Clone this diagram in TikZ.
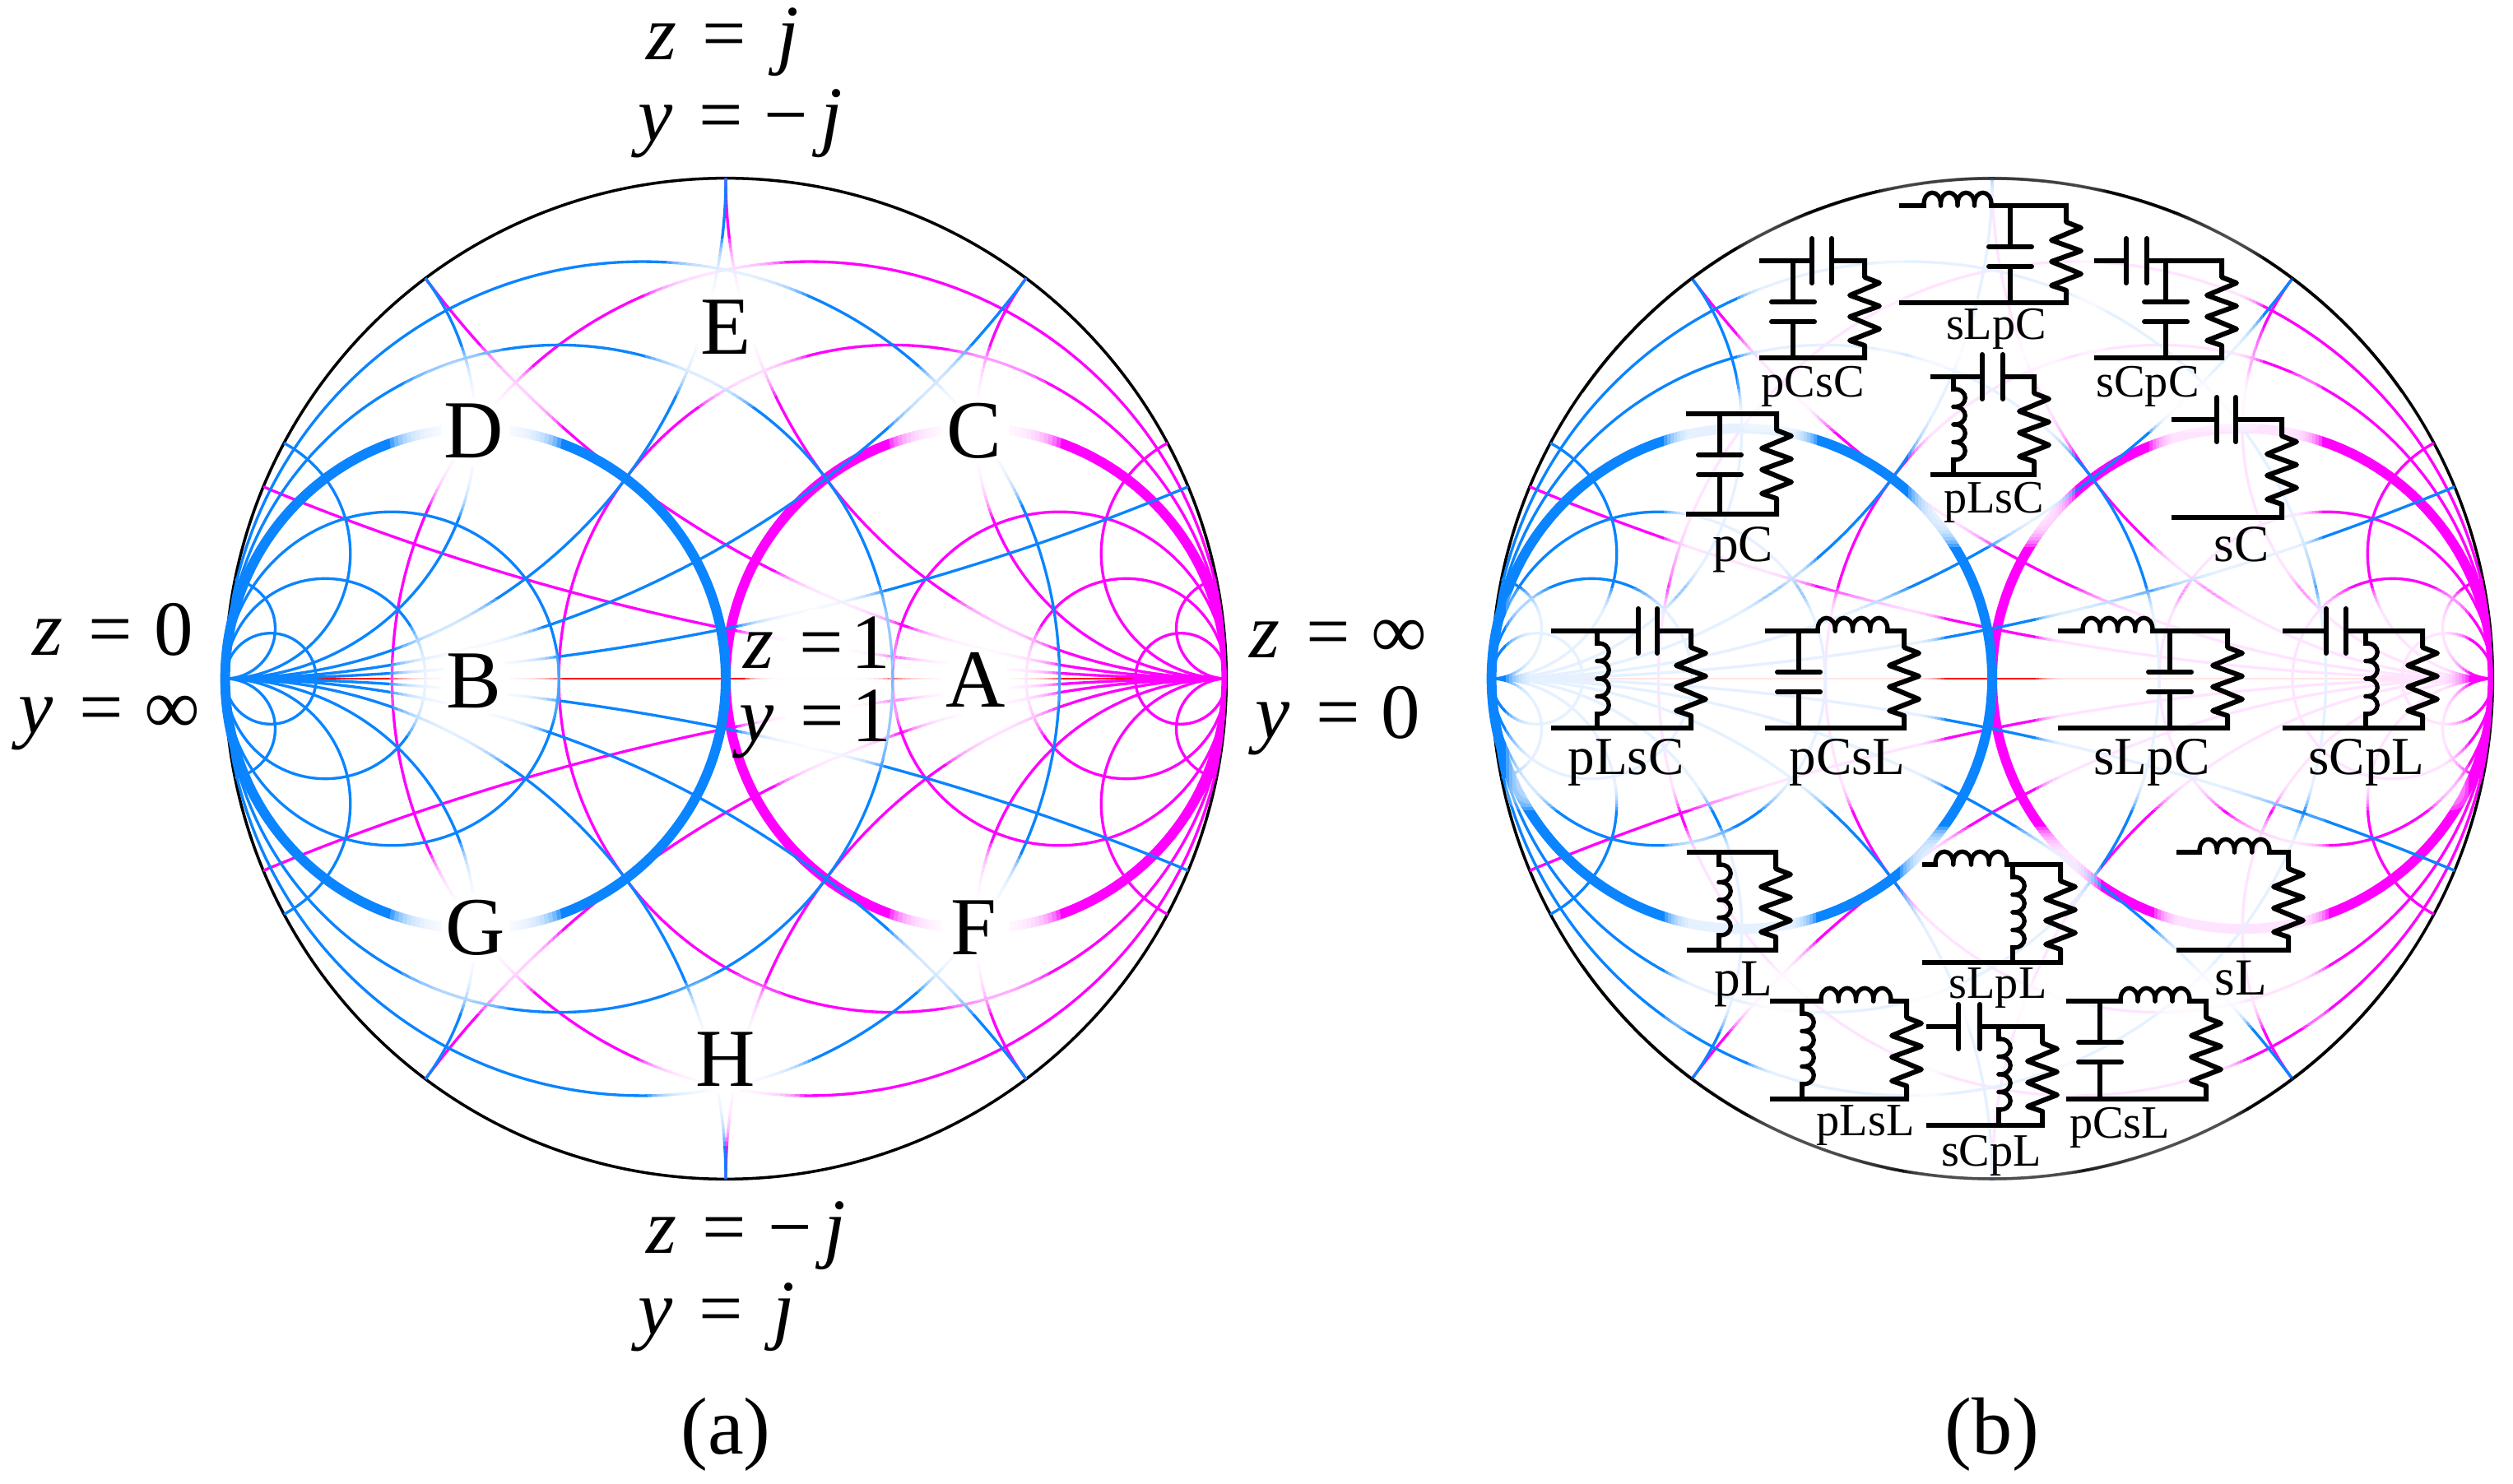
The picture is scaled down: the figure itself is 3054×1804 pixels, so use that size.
\documentclass[tikz,border=0pt]{standalone}
\usepackage{fontspec}
\setmainfont{Liberation Serif}
\definecolor{chblue}{HTML}{0A84FF}
\definecolor{chmag}{HTML}{FF00FF}
\tikzset{
  x=0.01cm,y=-0.01cm,
  outerc/.style={draw=black,line width=1pt},
  redl/.style={draw=red,line width=0.5pt},
  magl/.style={draw=chmag,line width=0.95pt},
  blul/.style={draw=chblue,line width=0.95pt},
  magt/.style={draw=chmag,line width=3.4pt},
  blut/.style={draw=chblue,line width=3.4pt},
  wire/.style={draw=black,line width=1.7pt,line cap=rect,line join=round},
  plate/.style={draw=black,line width=1.7pt,line cap=round},
  coil/.style={draw=black,line width=1.5pt,line cap=round},
  bigl/.style={inner sep=0pt,anchor=base,font=\fontsize{28.5}{30}\selectfont},
  eqn/.style={inner sep=0pt,anchor=base west,font=\fontsize{27}{28}\selectfont},
  capt/.style={inner sep=0pt,anchor=base,font=\fontsize{28}{30}\selectfont},
  cklab/.style={inner sep=0pt,anchor=base,font=\fontsize{16}{18}\selectfont},
  cklabc/.style={inner sep=0pt,anchor=base,font=\fontsize{18.5}{20}\selectfont},
  cklabb/.style={inner sep=0pt,anchor=base,font=\fontsize{18}{20}\selectfont}
}
% Smith chart grid, px centre (#1,#2)
\newcommand{\chartgrid}[2]{%
  \begin{scope}[shift={(#1,#2)},x=6.08cm,y=6.08cm]
    \draw[outerc] (0,0) circle (1);
    \begin{scope}
      \clip (0,0) circle (1);
      \draw[redl] (-1,0) -- (1,0);
      \foreach \vv in {0.2,0.5,2,4,10}{
        \pgfmathsetmacro\ctrv{\vv/(1+\vv)}
        \pgfmathsetmacro\radv{1/(1+\vv)}
        \draw[magl] (\ctrv,0) circle (\radv);
      }
      \foreach \vv in {0.2,0.5,1,2,4,10}{
        \pgfmathsetmacro\radv{1/\vv}
        \draw[magl] (1,\radv) circle (\radv);
        \draw[magl] (1,-\radv) circle (\radv);
      }
      \draw[magt] (0.5,0) circle (0.5);
      \foreach \vv in {0.2,0.5,2,4,10}{
        \pgfmathsetmacro\ctrv{\vv/(1+\vv)}
        \pgfmathsetmacro\radv{1/(1+\vv)}
        \draw[blul] (-\ctrv,0) circle (\radv);
      }
      \foreach \vv in {0.2,0.5,1,2,4,10}{
        \pgfmathsetmacro\radv{1/\vv}
        \draw[blul] (-1,\radv) circle (\radv);
        \draw[blul] (-1,-\radv) circle (\radv);
      }
    \end{scope}
    \draw[blut] (-0.5,0) circle (0.5);
  \end{scope}
}
% soft white disc
\newcommand{\softdisc}[3]{%
  \foreach \ff in {1.0,0.95,0.9,0.85,0.8,0.75,0.7,0.65,0.6,0.55,0.5,0.45}{
    \fill[white,opacity=0.25] (#1,#2) circle ({\ff*#3});
  }
  \fill[white] (#1,#2) circle ({0.4*#3});
}
% soft white rectangle
\newcommand{\softrect}[4]{%
  \foreach \gg in {30,26,22,18,14,10,6,2}{
    \fill[white,opacity=0.25,rounded corners=6pt] (#1-\gg,#2-\gg) rectangle (#3+\gg,#4+\gg);
  }
}
% resistor: x, ytop, ybot
\newcommand{\resz}[3]{%
  \draw[wire] (#1,#2) -- ++(0,20) -- ++(18,7) -- ++(-36,15) -- ++(36,13) -- ++(-36,13) -- ++(36,15) -- ++(-36,14) -- ++(18,6) -- (#1,#3);
}
% shunt capacitor: x, ytop, ybot
\newcommand{\capv}[3]{%
  \draw[wire] (#1,#2) -- (#1,#2+50);
  \draw[plate] (#1-26,#2+50) -- (#1+26,#2+50);
  \draw[plate] (#1-26,#2+74) -- (#1+26,#2+74);
  \draw[wire] (#1,#2+74) -- (#1,#3);
}
% series capacitor plates: x1, x2, y
\newcommand{\caph}[3]{%
  \draw[plate] (#1,#3-27) -- (#1,#3+27);
  \draw[plate] (#2,#3-27) -- (#2,#3+27);
}
% series inductor: x1, x2, y
\newcommand{\indh}[3]{%
  \foreach \ii in {0,1,2,3}{
    \pgfmathsetmacro\xa{#1+\ii*(#2-#1)/4}
    \pgfmathsetmacro\xb{#1+(\ii+1)*(#2-#1)/4}
    \draw[coil] (\xa,#3) .. controls (\xa-1,#3-21) and (\xb+1,#3-21) .. (\xb,#3);
  }
}
% shunt inductor: x, ytop, ybot
\newcommand{\indv}[3]{%
  \draw[wire] (#1,#2) -- (#1,#2+15);
  \foreach \ii in {0,1,2,3}{
    \pgfmathsetmacro\ya{#2+15+\ii*21.5}
    \pgfmathsetmacro\yb{#2+15+(\ii+1)*21.5}
    \draw[coil] (#1,\ya) .. controls (#1+19,\ya-1) and (#1+19,\yb+1) .. (#1,\yb);
  }
  \draw[wire] (#1,#2+101) -- (#1,#3);
}
\newcommand{\eqz}[2]{{\itshape #1}\hspace{0.33em}=\hspace{0.27em}#2}
\newcommand{\eqy}[2]{{\itshape #1}\hspace{0.33em}=\hspace{0.1em}#2}
\begin{document}
\begin{tikzpicture}
\useasboundingbox (0,0) rectangle (3054,1804);
\fill[white] (0,0) rectangle (3054,1804);

% ---------- chart (a)
\chartgrid{882}{825}
\softdisc{882}{395}{105}
\softdisc{578}{525}{105}
\softdisc{1185}{525}{105}
\softdisc{578}{830}{105}
\softdisc{1185}{830}{105}
\softdisc{578}{1128}{105}
\softdisc{1185}{1128}{105}
\softdisc{882}{1288}{105}
\softdisc{995}{780}{100}
\softdisc{995}{870}{100}

\node[bigl] (tE) at (882,431) {E};
\node[bigl] (tD) at (576,557) {D};
\node[bigl] (tC) at (1184,557) {C};
\node[bigl] (tB) at (576,861) {B};
\node[bigl] (tA) at (1186,860) {A};
\node[bigl] (tG) at (578,1160) {G};
\node[bigl] (tF) at (1183,1160) {F};
\node[bigl] (tH) at (882,1320) {H};

\node[eqn] (e1) at (785,73) {\eqz{z}{\hspace{0.12em}\itshape j}};
\node[eqn] (e2) at (775,172) {\eqz{y}{−\hspace{0.16em}\itshape j}};
\node[eqn] (e3) at (785,1523) {\eqz{z}{−\hspace{0.16em}\itshape j}};
\node[eqn] (e4) at (775,1622) {\eqz{y}{\hspace{0.12em}\itshape j}};
\node[eqn] (e5) at (39,797) {\eqz{z}{0}};
\node[eqn] (e6) at (22,892) {\eqz{y}{∞}};
\node[eqn] (e7) at (1518,800) {\eqz{z}{∞}};
\node[eqn] (e8) at (1525,898) {\eqz{y}{0}};
\node[eqn] (e9) at (903,813) {\eqy{z}{1}};
\node[eqn] (e10) at (898,902) {\eqy{y}{1}};
\node[capt] (ca) at (882,1767) {(a)};
\node[capt] (cb) at (2421,1767) {(b)};

% ---------- chart (b)
\chartgrid{2421}{825}
\softrect{2311}{235}{2530}{425}
\softrect{2141}{290}{2285}{495}
\softrect{2349}{430}{2492}{635}
\softrect{2052}{503}{2178}{695}
\softrect{2548}{290}{2720}{495}
\softrect{2642}{483}{2792}{695}
\softrect{1860}{745}{2333}{955}
\softrect{2504}{745}{2970}{955}
\softrect{2053}{1036}{2177}{1225}
\softrect{2339}{1035}{2523}{1225}
\softrect{2648}{1020}{2800}{1220}
\softrect{2154}{1202}{2336}{1395}
\softrect{2344}{1220}{2500}{1430}
\softrect{2514}{1202}{2700}{1395}
% keep the rim mostly legible above and below the faded patches
\draw[outerc,opacity=0.65] (2421,825) ++(35:608) arc[start angle=35,end angle=145,radius=608];
\draw[outerc,opacity=0.65] (2421,825) ++(215:608) arc[start angle=215,end angle=325,radius=608];

% sLpC top
\draw[wire] (2311,250) -- (2338,250);
\indh{2338}{2420}{250}
\draw[wire] (2420,250) -- (2511,250);
\draw[wire] (2311,368) -- (2511,368);
\capv{2443}{250}{368}
\resz{2511}{250}{368}
\node[cklab] (n1) at (2426,413) {sLpC};
% pCsC
\draw[wire] (2141,317) -- (2202,317);
\draw[wire] (2226,317) -- (2266,317);
\draw[wire] (2141,435) -- (2266,435);
\caph{2202}{2226}{317}
\capv{2179}{317}{435}
\resz{2266}{317}{435}
\node[cklab] (n2) at (2203,483) {pCsC};
% pLsC upper
\draw[wire] (2349,458) -- (2409,458);
\draw[wire] (2434,458) -- (2472,458);
\draw[wire] (2349,577) -- (2472,577);
\caph{2409}{2434}{458}
\indv{2374}{458}{577}
\resz{2472}{458}{577}
\node[cklab] (n3) at (2423,624) {pLsC};
% pC
\draw[wire] (2052,503) -- (2159,503);
\draw[wire] (2052,625) -- (2159,625);
\capv{2090}{503}{625}
\resz{2159}{503}{625}
\node[cklabb] (n4) at (2118,683) {pC};
% sCpC
\draw[wire] (2548,317) -- (2584,317);
\draw[wire] (2609,317) -- (2700,317);
\draw[wire] (2548,435) -- (2700,435);
\caph{2584}{2609}{317}
\capv{2632}{317}{435}
\resz{2700}{317}{435}
\node[cklab] (n5) at (2610,483) {sCpC};
% sC
\draw[wire] (2642,510) -- (2694,510);
\draw[wire] (2717,510) -- (2773,510);
\draw[wire] (2642,629) -- (2773,629);
\caph{2694}{2717}{510}
\resz{2773}{510}{629}
\node[cklabb] (n6) at (2724,683) {sC};
% pLsC mid
\draw[wire] (1888,767) -- (1991,767);
\draw[wire] (2014,767) -- (2055,767);
\draw[wire] (1888,885) -- (2055,885);
\caph{1991}{2014}{767}
\indv{1941}{767}{885}
\resz{2055}{767}{885}
\node[cklabc] (n7) at (1976,942) {pLsC};
% pCsL mid
\draw[wire] (2148,767) -- (2209,767);
\indh{2209}{2294}{767}
\draw[wire] (2294,767) -- (2314,767);
\draw[wire] (2148,885) -- (2314,885);
\capv{2186}{767}{885}
\resz{2314}{767}{885}
\node[cklabc] (n8) at (2245,942) {pCsL};
% sLpC mid
\draw[wire] (2504,767) -- (2531,767);
\indh{2531}{2616}{767}
\draw[wire] (2616,767) -- (2707,767);
\draw[wire] (2504,885) -- (2707,885);
\capv{2637}{767}{885}
\resz{2707}{767}{885}
\node[cklabc] (n9) at (2615,942) {sLpC};
% sCpL mid
\draw[wire] (2777,767) -- (2827,767);
\draw[wire] (2851,767) -- (2944,767);
\draw[wire] (2777,885) -- (2944,885);
\caph{2827}{2851}{767}
\indv{2875}{767}{885}
\resz{2944}{767}{885}
\node[cklabc] (n10) at (2876,942) {sCpL};
% pL
\draw[wire] (2053,1036) -- (2158,1036);
\draw[wire] (2053,1155) -- (2158,1155);
\indv{2089}{1036}{1155}
\resz{2158}{1036}{1155}
\node[cklabb] (n11) at (2119,1210) {pL};
% sLpL
\draw[wire] (2339,1051) -- (2352,1051);
\indh{2352}{2439}{1051}
\draw[wire] (2439,1051) -- (2504,1051);
\draw[wire] (2339,1170) -- (2504,1170);
\indv{2446}{1051}{1170}
\resz{2504}{1051}{1170}
\node[cklab] (n12) at (2428,1213) {sLpL};
% sL
\draw[wire] (2648,1036) -- (2673,1036);
\indh{2673}{2758}{1036}
\draw[wire] (2758,1036) -- (2781,1036);
\draw[wire] (2648,1155) -- (2781,1155);
\resz{2781}{1036}{1155}
\node[cklabb] (n13) at (2723,1209) {sL};
% pLsL
\draw[wire] (2154,1217) -- (2213,1217);
\indh{2213}{2298}{1217}
\draw[wire] (2298,1217) -- (2317,1217);
\draw[wire] (2154,1336) -- (2317,1336);
\indv{2190}{1217}{1336}
\resz{2317}{1217}{1336}
\node[cklab] (n14) at (2267,1380) {pLsL};
% sCpL low
\draw[wire] (2344,1248) -- (2380,1248);
\draw[wire] (2406,1248) -- (2482,1248);
\draw[wire] (2344,1368) -- (2482,1368);
\caph{2380}{2406}{1248}
\indv{2429}{1248}{1368}
\resz{2482}{1248}{1368}
\node[cklab] (n15) at (2420,1417) {sCpL};
% pCsL low
\draw[wire] (2514,1217) -- (2577,1217);
\indh{2577}{2661}{1217}
\draw[wire] (2661,1217) -- (2681,1217);
\draw[wire] (2514,1336) -- (2681,1336);
\capv{2552}{1217}{1336}
\resz{2681}{1217}{1336}
\node[cklab] (n16) at (2576,1383) {pCsL};
\end{tikzpicture}
\end{document}
